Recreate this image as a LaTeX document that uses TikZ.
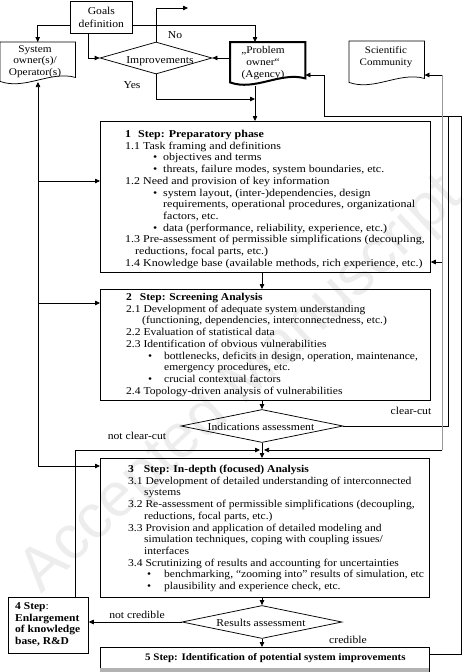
\documentclass[tikz,border=0pt]{standalone}
\usepackage{fontspec}
\setmainfont[FakeStretch=1.1]{Liberation Serif}
\newfontfamily\wmfont{Liberation Sans}
\usetikzlibrary{arrows.meta,shapes.geometric}
\newcommand\docpath[1]{(#1.north west) -- (#1.north east) -- (#1.south east) .. controls ([xshift=-25pt,yshift=7pt]#1.south east) and ([xshift=25pt,yshift=-13pt]#1.south west) .. ([yshift=-4pt]#1.south west) -- cycle}
\newcommand\bl[1]{\hspace*{#1}\makebox[10pt][l]{\textbullet}}
\begin{document}
\begin{tikzpicture}[x=1pt,y=-1pt,
  ln/.style={line width=0.75pt},
  arr/.style={ln,-{Triangle[length=5pt,width=4.5pt]}},
  boxn/.style={draw,ln,inner sep=0,anchor=north west},
  plain/.style={inner sep=0,minimum width=#1},
  dia/.style={draw,ln,diamond,inner sep=0,aspect=3},
  txt/.style={inner sep=0,anchor=base west,font=\fontsize{10.5pt}{11.7pt}\selectfont},
  lab/.style={inner sep=0,font=\fontsize{10.6pt}{11.7pt}\selectfont},
  wm/.style={inner sep=0,font=\wmfont\fontsize{62pt}{62pt}\selectfont,text=black!7}]
\useasboundingbox (0,0) rectangle (474,672);
% watermark
\node[wm,rotate=43] (wmark) at (242,385) {Accepted Manuscript};
% boxes
\node[boxn,minimum width=62pt,minimum height=32pt,align=center,font=\fontsize{10.6pt}{12.5pt}\selectfont] (goals) at (70,1) {Goals\\definition};
\node[plain=75pt,minimum height=35pt,anchor=north west] (sysown) at (0,42) {};
\draw[ln] \docpath{sysown};
\node[lab,align=center,font=\fontsize{10.3pt}{11.6pt}\selectfont] (sysownt) at (35,61.5) {System\\owner(s)/\\Operator(s)};
\node[plain=75pt,minimum height=36pt,anchor=north west] (probown) at (230,42) {};
\draw[line width=2pt] \docpath{probown};
\node[lab,align=center,font=\fontsize{10.3pt}{11.6pt}\selectfont] (probownt) at (263,63) {„Problem\\owner“\\(Agency)};
\node[plain=75pt,minimum height=37pt,anchor=north west] (scicom) at (349,41) {};
\draw[ln] \docpath{scicom};
\node[lab,align=center,font=\fontsize{10pt}{11.2pt}\selectfont] (scicomt) at (386,57) {Scientific\\Community};
\node[dia,minimum width=112pt,minimum height=32pt] (impr) at (156,58) {};
\node[lab] (imprt) at (160,61) {Improvements};
\node[lab] (no) at (175,35) {No};
\node[lab] (yes) at (132,85) {Yes};

\node[boxn,minimum width=330pt,minimum height=151pt] (s1) at (100,121) {};
\node[txt] (t1) at (125,137.5) {\addfontfeatures{FakeStretch=1.14}\begin{tabular}[t]{@{}l@{}}
\textbf{1\hspace{7pt}Step: Preparatory phase}\\
1.1 Task framing and definitions\\
\bl{28pt}objectives and terms\\
\bl{28pt}threats, failure modes, system boundaries, etc.\\
1.2 Need and provision of key information\\
\bl{28pt}system layout, (inter-)dependencies, design\\
\hspace*{38pt}requirements, operational procedures, organizational\\
\hspace*{38pt}factors, etc.\\
\bl{28pt}data (performance, reliability, experience, etc.)\\
1.3 Pre-assessment of permissible simplifications (decoupling,\\
\hspace*{10pt}reductions, focal parts, etc.)\\
1.4 Knowledge base (available methods, rich experience, etc.)
\end{tabular}};

\node[boxn,minimum width=330pt,minimum height=111pt] (s2) at (100,289) {};
\node[txt] (t2) at (126,300.5) {\begin{tabular}[t]{@{}l@{}}
\textbf{2\hspace{8pt}Step: Screening Analysis}\\
2.1 Development of adequate system understanding\\
\hspace*{16pt}(functioning, dependencies, interconnectedness, etc.)\\
2.2 Evaluation of statistical data\\
2.3 Identification of obvious vulnerabilities\\
\bl{22pt}\hspace*{6pt}bottlenecks, deficits in design, operation, maintenance,\\
\hspace*{38pt}emergency procedures, etc.\\
\bl{22pt}\hspace*{6pt}crucial contextual factors\\
2.4 Topology-driven analysis of vulnerabilities
\end{tabular}};
\node[dia,minimum width=162pt,minimum height=33pt] (ind) at (262,426) {};
\node[lab] (indt) at (261,427) {Indications assessment};
\node[lab] (cc) at (411,411) {clear-cut};
\node[lab] (ncc) at (137,436) {not clear-cut};

\node[boxn,minimum width=329pt,minimum height=139pt] (s3) at (100,458) {};
\node[txt] (t3) at (128,472.5) {\begin{tabular}[t]{@{}l@{}}
\textbf{3\hspace{10pt}Step: In-depth (focused) Analysis}\\
3.1 Development of detailed understanding of interconnected\\
\hspace*{16pt}systems\\
3.2 Re-assessment of permissible simplifications (decoupling,\\
\hspace*{16pt}reductions, focal parts, etc.)\\
3.3 Provision and application of detailed modeling and\\
\hspace*{16pt}simulation techniques, coping with coupling issues/\\
\hspace*{16pt}interfaces\\
3.4 Scrutinizing of results and accounting for uncertainties\\
\bl{19pt}\hspace*{7pt}benchmarking, “zooming into” results of simulation, etc\\
\bl{19pt}\hspace*{7pt}plausibility and experience check, etc.
\end{tabular}};
\node[dia,minimum width=160pt,minimum height=33pt] (res) at (262,622) {};
\node[lab] (rest) at (261,623) {Results assessment};
\node[lab] (ncr) at (137,615) {not credible};
\node[lab] (cr) at (348,640) {credible};

\node[boxn,minimum width=80pt,minimum height=56pt] (s4) at (8,597) {};
\node[txt] (t4) at (15,609.5) {\begin{tabular}[t]{@{}l@{}}
\textbf{4 Step}:\\ \textbf{Enlargement}\\ \textbf{of knowledge}\\ \textbf{base, R\&D}
\end{tabular}};
\node[boxn,minimum width=329pt,minimum height=24pt] (s5) at (100,647) {};
\fill[black!30] (100,668) rectangle (429,672);
\node[txt,font=\fontsize{10pt}{11.7pt}\selectfont] (t5) at (145,660.5) {\textbf{5 Step: Identification of potential system improvements}};

% routing points
\coordinate (pin) at (255,42);
\coordinate (pout) at (255,86);
\coordinate (gb) at (88,33);
\coordinate (noend) at (188,8);
\coordinate (yesend) at (255,99);
\coordinate (cx) at (262,0);
\coordinate (sysb) at (38,82);
\coordinate (bus0) at (38,466);
\coordinate (bus1) at (38,181);
\coordinate (bus2) at (38,303);
\coordinate (fb1) at (461,116);
\coordinate (fb2) at (324,75);
\coordinate (ccend) at (448,116);
\coordinate (s4t) at (75,597);
\coordinate (jl) at (260,450);
\coordinate (jr) at (264,450);
\coordinate (sc0) at (442,450);
\coordinate (sc1) at (442,75);
\coordinate (kb) at (442,262);

% connectors
\draw[arr] ([yshift=-8pt]goals.west) -| (sysown.north);
\draw[arr] ([yshift=-8pt]goals.east) -| (pin);
\draw[arr] (gb) |- (impr.west);
\draw[arr] (impr.east -| probown.west) -- (impr.east);
\draw[arr] (impr.north) |- (noend);
\draw[arr] (impr.south) |- (yesend);
\draw[arr] (pout) -- (pout |- s1.north);
\draw[arr] (s1.south -| cx) -- (s2.north -| cx);
\draw[arr] (s2.south -| cx) -- (ind.north);
\draw[arr] (ind.south) -- (s3.north -| cx);
\draw[arr] (s3.south -| cx) -- (res.north);
\draw[arr] (res.west) -- (res.west -| s4.east);
\draw[arr] (res.south) -- (res.south |- s5.north);
\draw[arr] (bus0) -- (sysb);
\draw[arr] (bus1) -- (bus1 -| s1.west);
\draw[arr] (bus2) -- (bus2 -| s2.west);
\draw[arr] (bus0) -- (bus0 -| s3.west);
\draw[arr] ([yshift=-7pt]s5.north east) -| (fb1) -| (fb2) -- (fb2 -| probown.east);
\draw[ln] (ind.east) -| (ccend);
\draw[arr] (s4t) |- (jl);
\draw[arr] (sc0) -- (jr);
\draw[ln,black!40] (sc0) -- (sc1);
\draw[arr] (sc1) -- (sc1 -| scicom.east);
\draw[arr] (kb) -- (kb -| s1.east);
\end{tikzpicture}
\end{document}
